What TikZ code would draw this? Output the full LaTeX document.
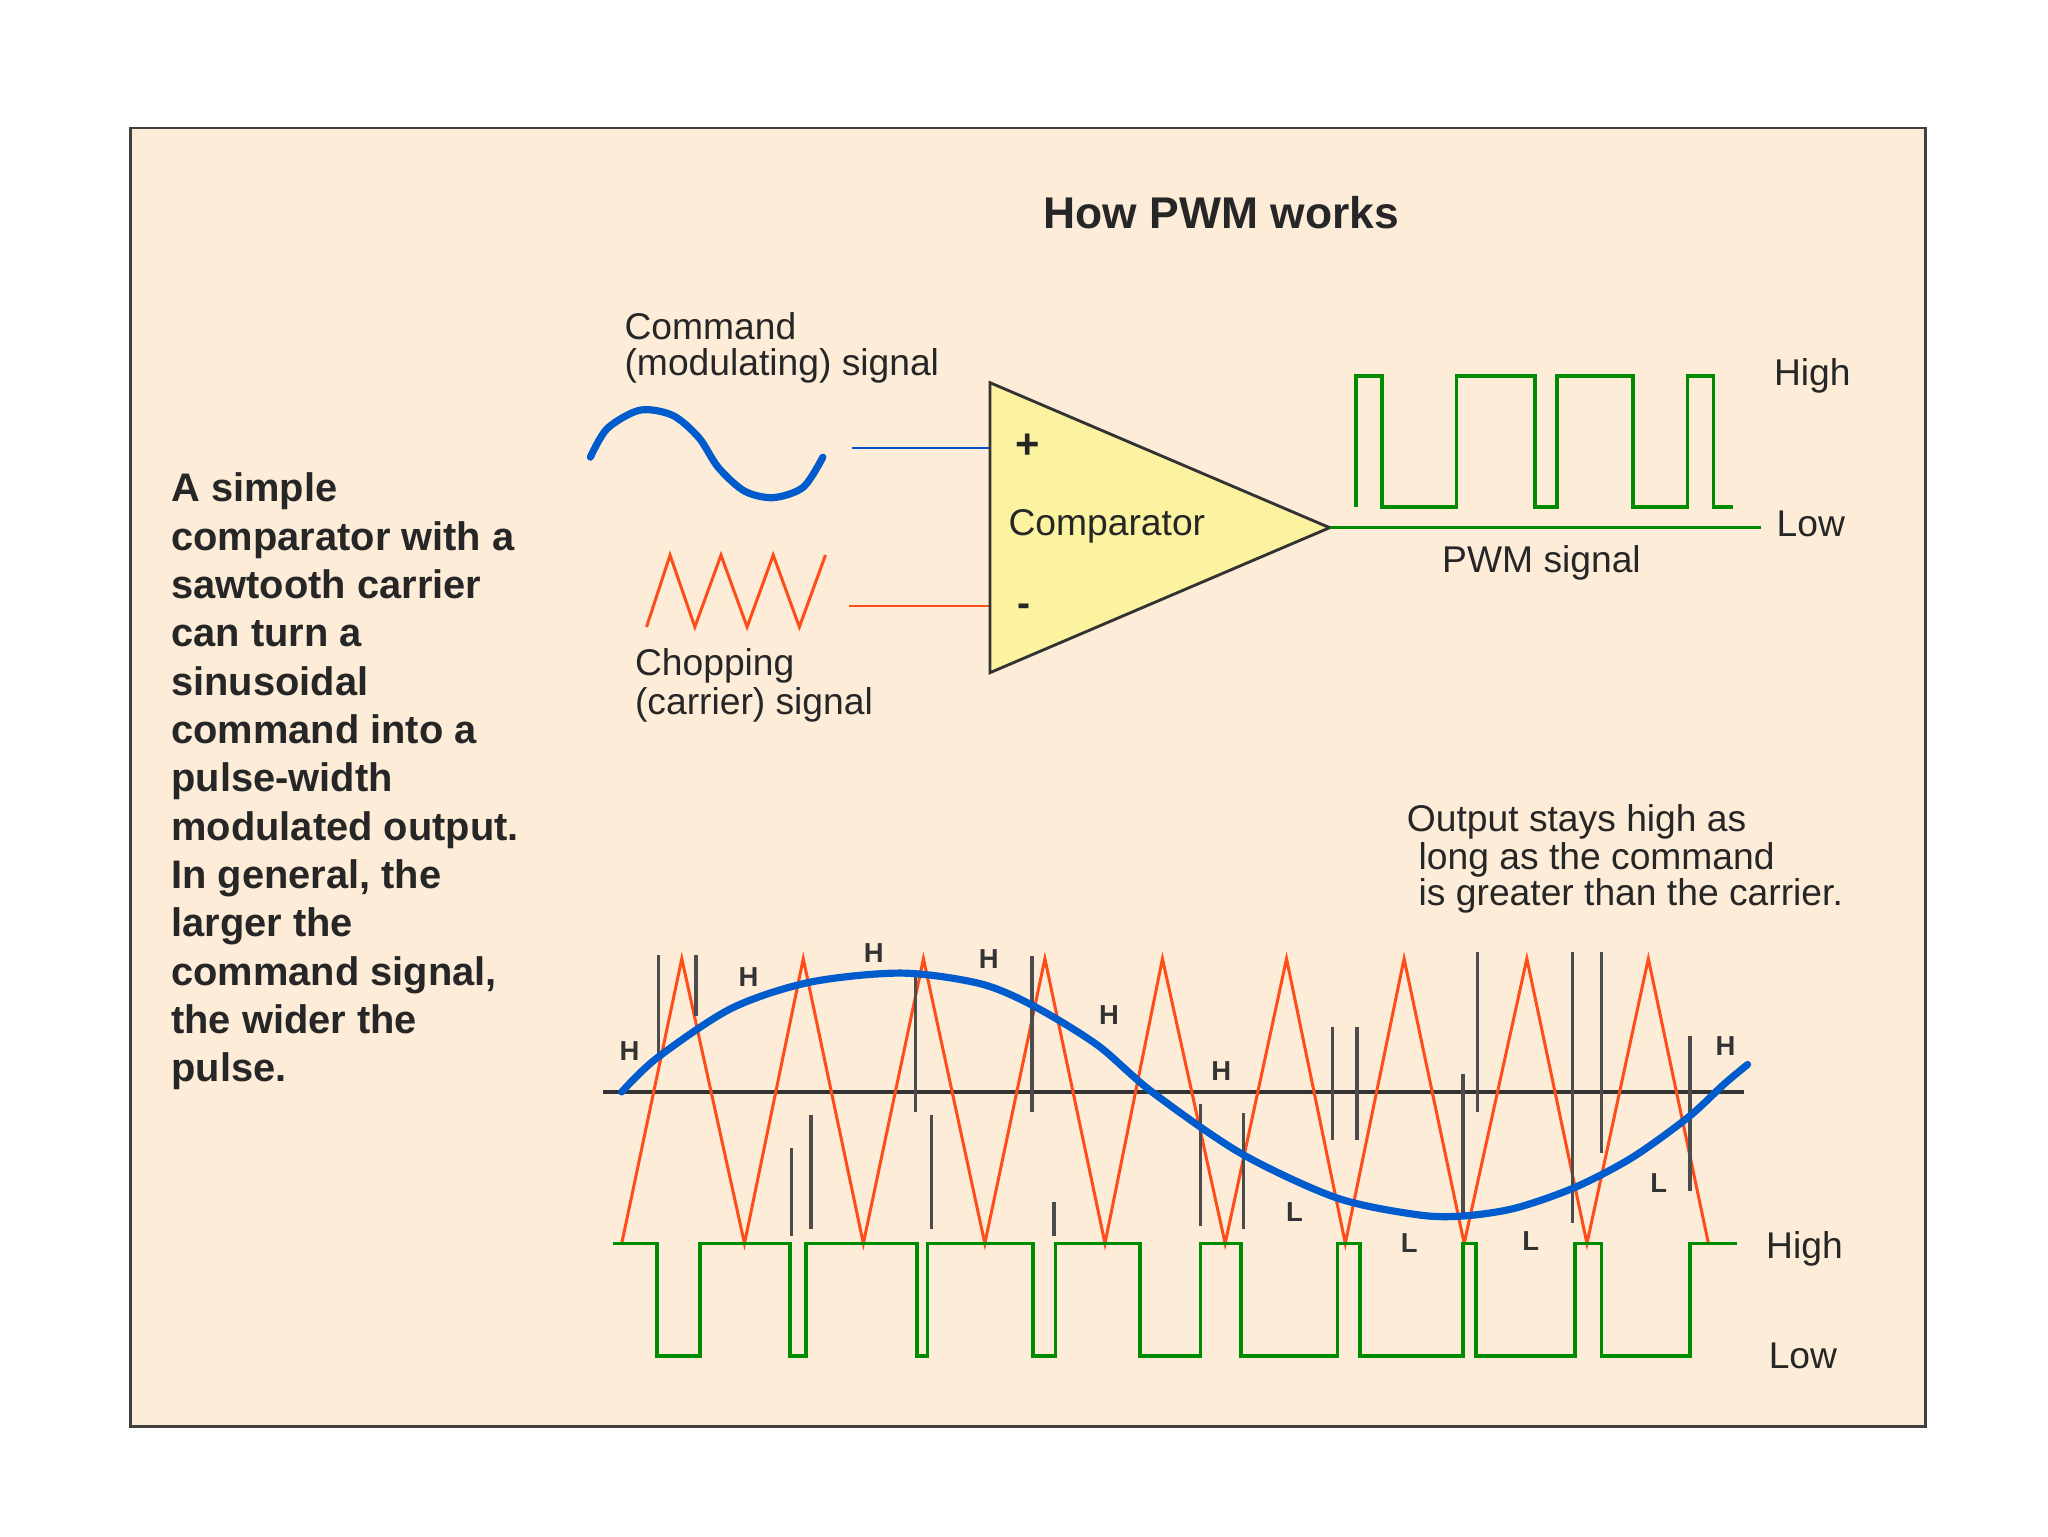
\documentclass[tikz,border=0pt]{standalone}
\usepackage{fontspec}
\setmainfont{Liberation Sans}
\begin{document}
\begin{tikzpicture}[x=1pt,y=-1pt,
  lbl/.style={anchor=west,inner sep=0pt,font=\fontsize{28.5}{30}\selectfont,text=black!85},
  bold/.style={anchor=west,inner sep=0pt,font=\fontsize{30.5}{37}\selectfont\bfseries,text=black!85},
  hl/.style={inner sep=0pt,font=\fontsize{21}{24}\selectfont\bfseries,text=black!80},
  redw/.style={draw=red!55!orange!90,line width=2.3pt},
  greenw/.style={draw=green!55!black,line width=2.8pt},
  bluew/.style={draw=blue!55!cyan!80!black,line width=5.5pt,line cap=round},
  tick/.style={draw=black!70,line width=2.6pt}]
\useasboundingbox (0,0) rectangle (1568,1176);
\fill[white] (0,0) rectangle (1568,1176);
\draw[fill={rgb,255:red,252;green,236;blue,216},draw=black!75,line width=2pt] (100,98) rectangle (1474,1092);
\node[anchor=center,inner sep=0pt,font=\fontsize{34}{38}\selectfont\bfseries,text=black!85] (title) at (935,163) {How PWM works};
% labels top
\node[lbl] (cmd1) at (478,250) {Command};
\node[lbl] (cmd2) at (478,280) {(modulating) signal};
\node[lbl] (chp1) at (486,510) {Chopping};
\node[lbl] (chp2) at (486,540) {(carrier) signal};
% top sine
\draw[bluew] plot[smooth] coordinates {(452,350) (465,328) (490,314) (515,318) (535,335) (550,358) (570,376) (592,381) (615,373) (630,350)};
% top sawtooth
\draw[redw] (495,480) -- (513,425) -- (532,480) -- (552,425) -- (572,480) -- (592,425) -- (612,480) -- (632,425);
% comparator
\coordinate (tA) at (758,293); \coordinate (tB) at (758,515); \coordinate (tC) at (1018,404);
\coordinate (inP) at (758,343); \coordinate (inM) at (758,464);
\coordinate (cmdEnd) at (652,343); \coordinate (chpEnd) at (650,464); \coordinate (outEnd) at (1348,404);
\draw[draw=blue!60!cyan!80!black,line width=1.8pt] (cmdEnd) -- (inP);
\draw[draw=red!55!orange!90,line width=1.8pt] (chpEnd) -- (inM);
\draw[fill={rgb,255:red,252;green,243;blue,160},draw=black!80,line width=2.2pt] (tA) -- (tC) -- (tB) -- cycle;
\node[inner sep=0pt,font=\fontsize{32}{32}\selectfont\bfseries,text=black!85] (plus) at (787,342) {+};
\node[inner sep=0pt,font=\fontsize{30}{30}\selectfont\bfseries,text=black!85] (minus) at (784,467) {-};
\node[lbl] (comp) at (772,403) {Comparator};
\draw[greenw,line width=2.2pt] (tC) -- (outEnd);
\draw[greenw] (1038,388) -- (1038,288) -- (1058,288) -- (1058,388) -- (1115,388) -- (1115,288) -- (1175,288) -- (1175,388) -- (1192,388) -- (1192,288) -- (1250,288) -- (1250,388) -- (1292,388) -- (1292,288) -- (1312,288) -- (1312,388) -- (1327,388);
\node[lbl] (hi1) at (1358,288) {High};
\node[lbl] (lo1) at (1360,401) {Low};
\node[lbl] (pwm) at (1104,431) {PWM signal};
% left paragraph
\node[bold,align=left,anchor=north west] (para) at (131,362) {A simple\\comparator with a\\sawtooth carrier\\can turn a\\sinusoidal\\command into a\\pulse-width\\modulated output.\\In general, the\\larger the\\command signal,\\the wider the\\pulse.};
% output note
\node[lbl] (o1) at (1077,629) {Output stays high as};
\node[lbl] (o2) at (1086,658) {long as the command};
\node[lbl] (o3) at (1086,686) {is greater than the carrier.};
% bottom chart
\coordinate (ax0) at (462,836); \coordinate (ax1) at (1335,836);
\draw[draw=black!80,line width=2.6pt] (ax0) -- (ax1);
\draw[redw] (476,952) -- (522,734) -- (570,952) -- (615,734) -- (661,952) -- (707,734) -- (754,952) -- (800,734) -- (846,952) -- (890,734) -- (938,952) -- (985,734) -- (1030,952) -- (1075,734) -- (1121,952) -- (1169,734) -- (1215,952) -- (1262,734) -- (1308,952);
% ticks
\foreach \x/\a/\b in {504/731/809, 533/731/778, 606/879/946, 621/854/941, 701/745/851, 713/854/941, 790/732/851, 807/920/946, 919/845/939, 952/852/941, 1020/786/873, 1039/786/873, 1120/822/932, 1131/729/851, 1204/729/936, 1226/729/883, 1294/793/912}
  \draw[tick] (\x,\a) -- (\x,\b);
\draw[bluew] plot[smooth] coordinates {(476,836) (503,810) (560,772) (620,752) (690,745) (750,753) (791,770) (840,800) (882,836) (950,883) (1023,917) (1085,930) (1120,931) (1160,925) (1206,909) (1250,886) (1293,855) (1320,830) (1338,815)};
\draw[greenw] (469,952) -- (503,952) -- (503,1038) -- (536,1038) -- (536,952) -- (605,952) -- (605,1038) -- (617,1038) -- (617,952) -- (702,952) -- (702,1038) -- (710,1038) -- (710,952) -- (791,952) -- (791,1038) -- (808,1038) -- (808,952) -- (873,952) -- (873,1038) -- (919,1038) -- (919,952) -- (950,952) -- (950,1038) -- (1024,1038) -- (1024,952) -- (1041,952) -- (1041,1038) -- (1120,1038) -- (1120,952) -- (1130,952) -- (1130,1038) -- (1206,1038) -- (1206,952) -- (1226,952) -- (1226,1038) -- (1294,1038) -- (1294,952) -- (1330,952);
\node[lbl] (hi2) at (1352,956) {High};
\node[lbl] (lo2) at (1354,1038) {Low};
% H / L labels
\node[hl] (h1) at (482,805) {H};
\node[hl] (h2) at (573,748) {H};
\node[hl] (h3) at (669,730) {H};
\node[hl] (h4) at (757,734) {H};
\node[hl] (h5) at (849,777) {H};
\node[hl] (h6) at (935,820) {H};
\node[hl] (h7) at (1321,801) {H};
\node[hl] (l1) at (991,928) {L};
\node[hl] (l2) at (1079,952) {L};
\node[hl] (l3) at (1172,950) {L};
\node[hl] (l4) at (1270,906) {L};
\end{tikzpicture}
\end{document}
